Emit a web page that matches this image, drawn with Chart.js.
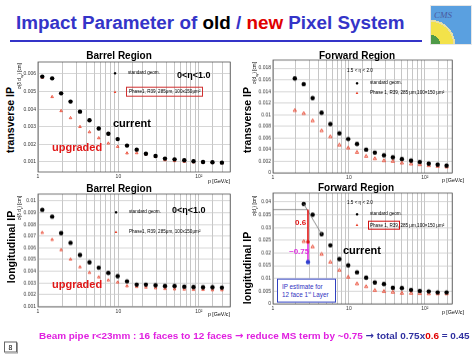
<!DOCTYPE html>
<html><head><meta charset="utf-8">
<script src="https://cdn.jsdelivr.net/npm/chart.js@4.4.1/dist/chart.umd.min.js"></script>
<style>
body{margin:0;width:474px;height:355px;background:#fff;position:relative;overflow:hidden;font-family:"Liberation Sans",Arial,sans-serif;}
.t{position:absolute;white-space:nowrap;line-height:1;}
canvas{position:absolute;}
#logo{position:absolute;left:430px;top:5px;width:40px;height:38px;border:1px solid #e6e6e6;
background:radial-gradient(circle at 0 100%,#4f9a48 0 9px,#f3e24a 9px 22px,#e6dfa8 22px 24px,#5aa0e0 24px 100px);}
.ar{font-family:"DejaVu Sans",sans-serif;}
</style></head><body>
<div id="logo"><span class="t" style="left:3px;top:4px;font:italic 9px 'Liberation Serif',serif;color:#4a5aa0">CMS</span></div>
<div id="uline" style="position:absolute;left:10px;top:40px;width:412px;height:1.5px;background:#3434c8"></div>
<script>
// ---- data ----
const pBins = [1.13,1.5,1.94,2.54,3.33,4.37,5.7,7.5,9.8,12.8,16.9,22,29,38,50,66,86,113,148,194];
const barrelTransStd = [0.00585,0.00575,0.0049,0.00443,0.00386,0.00337,0.0029,0.0026,0.0023,0.00193,0.0017,0.00147,0.00134,0.00119,0.00115,0.0011,0.00104,0.001,0.00098,0.00096];
const barrelTransNew = [0.0058,0.0047,0.0039,0.0035,0.003,0.0027,0.00236,0.00206,0.00187,0.0015,0.00151,0.00144,0.0013,0.00111,0.00106,0.00102,0.00099,0.00098,0.00097,0.00095];
const fwdTransStd = [0.01623,0.01526,0.01286,0.01034,0.0084,0.0068,0.00583,0.00497,0.004,0.00349,0.00303,0.00269,0.0024,0.00211,0.00189,0.0016,0.00143,0.00126];
const fwdTransNew = [0.01074,0.01023,0.00897,0.00726,0.00623,0.0048,0.00429,0.00354,0.00286,0.00246,0.00211,0.002,0.00171,0.00154,0.00143,0.00126,0.00114,0.00103];
const barrelLongStd = [0.00925,0.00867,0.00726,0.00643,0.00539,0.00476,0.0043,0.00386,0.00358,0.00314,0.00286,0.00286,0.0028,0.00274,0.00274,0.00268,0.00265,0.00263,0.00263,0.0026];
const barrelLongNew = [0.0073,0.0067,0.00582,0.00502,0.00436,0.00388,0.0035,0.00324,0.00306,0.00274,0.00268,0.00263,0.00257,0.00251,0.00248,0.00246,0.00243,0.00243,0.0024,0.0024];
const fwdLongStd = [0.0392,0.035,0.0274,0.023,0.0176,0.0151,0.0124,0.0103,0.0084,0.0078,0.0063,0.0062,0.0055,0.0051,0.0049,0.0045,0.0045];
const fwdLongNew = [0.0245,0.0224,0.0195,0.0164,0.0132,0.0105,0.0079,0.0068,0.0053,0.0049,0.0046,0.0042,0.0042,0.0041,0.004,0.004,0.004];
const ticksBT = [0.001,0.002,0.003,0.004,0.005,0.006];
const ticksFT = [0,0.002,0.004,0.006,0.008,0.01,0.012,0.014,0.016,0.018];
const ticksBL = [0.001,0.002,0.003,0.004,0.005,0.006,0.007,0.008,0.009,0.01];
const ticksFL = [0,0.005,0.01,0.015,0.02,0.025,0.03,0.035,0.04];
// annotation of forward longitudinal plot: p, start level, x0.6 level, x0.75 level
const annP = 2.89, annTop = 0.037, annRed = 0.0243, annBlue = 0.0164;

const pts = (xs, ys) => ys.map((y,i)=>({x:xs[i], y}));

const framePlugin = {id:'frame', afterDraw(c){const a=c.chartArea,g=c.ctx;g.save();g.strokeStyle='#555';g.lineWidth=0.8;g.strokeRect(a.left,a.top,a.right-a.left,a.bottom-a.top);g.restore();}};

function plot(L,T,R,B,opt){
  const cv=document.createElement('canvas');
  const w=R-L+26, h=B-T+18;
  cv.width=w; cv.height=h; cv.style.left=(L-22)+'px'; cv.style.top=(T-6)+'px';
  cv.style.width=w+'px'; cv.style.height=h+'px';
  document.body.appendChild(cv);
  const plugins=[framePlugin];
  if(opt.extra) plugins.push({id:'extra', afterDatasetsDraw:opt.extra});
  return new Chart(cv,{type:'scatter',
    data:{datasets:[
      {data:pts(opt.p,opt.std),pointStyle:'circle',pointRadius:2.2,backgroundColor:'#000',borderWidth:0},
      {data:pts(opt.p,opt.nw),pointStyle:'triangle',pointRadius:opt.rr||1.9,borderColor:'#e8402a',backgroundColor:'rgba(232,64,42,0.2)',borderWidth:0.8}
    ]},
    options:{responsive:false,animation:false,events:[],
      layout:{padding:{top:6,right:4,left:0,bottom:0}},
      plugins:{legend:{display:false},tooltip:{enabled:false}},
      scales:{
        x:{type:'logarithmic',min:1,max:opt.xMax,afterFit:s=>{s.height=12;},
          grid:{color:'#b8b8b8',lineWidth:0.8,drawTicks:false},border:{display:false},
          ticks:{autoSkip:false,maxRotation:0,padding:2,font:{size:5,family:'Liberation Sans'},color:'#333',
            callback:v=>{const l=Math.log10(v);if(Math.abs(l-Math.round(l))<1e-6){const k=Math.round(l);return k===0?'1':k===1?'10':k===2?'10²':'';}return '';}}},
        y:{type:'linear',min:opt.yMin,max:opt.yMax,
          afterBuildTicks:s=>{s.ticks=opt.yTicks.map(v=>({value:v}));},
          afterFit:s=>{s.width=22;},
          grid:{color:'#cccccc',lineWidth:0.8,drawTicks:false},border:{display:false},
          ticks:{padding:2,font:{size:5,family:'Liberation Sans'},color:'#333',callback:v=>String(+v.toFixed(4))}}
      }},
    plugins});
}

plot(38,62,231,172,{p:pBins,std:barrelTransStd,nw:barrelTransNew,xMax:246,yMin:0.00043,yMax:0.00668,yTicks:ticksBT,rr:1.5});
plot(273,60,453,172.7,{p:pBins.slice(2),std:fwdTransStd,nw:fwdTransNew,xMax:230,yMin:0,yMax:0.0194,yTicks:ticksFT});
plot(38,194,231,306.7,{p:pBins,std:barrelLongStd,nw:barrelLongNew,xMax:246,yMin:0.00095,yMax:0.0106,yTicks:ticksBL,rr:1.5});
plot(273,193,453,303.5,{p:pBins.slice(3),std:fwdLongStd,nw:fwdLongNew,xMax:230,yMin:0,yMax:0.0435,yTicks:ticksFL,
  extra(c){
    const x=c.scales.x,y=c.scales.y,g=c.ctx;
    const X=v=>x.getPixelForValue(v),Y=v=>y.getPixelForValue(v);
    g.save();
    g.strokeStyle='#777';g.lineWidth=0.8;
    g.beginPath();g.moveTo(X(1),Y(annTop));g.lineTo(X(annP),Y(annTop));g.stroke();
    g.beginPath();g.moveTo(X(pBins[3]),Y(fwdLongStd[0]));g.lineTo(X(pBins[5]),Y(fwdLongStd[2]));g.stroke();
    g.lineWidth=1.6;
    g.strokeStyle='#e01818';g.beginPath();g.moveTo(X(annP),Y(annTop));g.lineTo(X(annP),Y(annRed));g.stroke();
    g.strokeStyle='#e030e0';g.beginPath();g.moveTo(X(annP),Y(annRed));g.lineTo(X(annP),Y(annBlue));g.stroke();
    g.fillStyle='#e01818';g.beginPath();g.arc(X(annP),Y(annRed),1.8,0,7);g.fill();
    g.fillStyle='#3040d0';g.beginPath();g.arc(X(annP),Y(annBlue),2.2,0,7);g.fill();
    g.restore();
  }});

// ---- texts ----
function lab(html,x,y,o={}){
  const d=document.createElement('div');d.className='t';d.innerHTML=html;
  d.style.fontSize=(o.size||5)+'px';d.style.fontWeight=o.bold?'bold':'normal';d.style.color=o.color||'#000';
  d.style.left=x+'px';d.style.top=y+'px';
  let tr='';
  if(o.align==='c') tr='translate(-50%,-50%)'; else if(o.align==='r') tr='translate(-100%,-50%)'; else tr='translateY(-50%)';
  if(o.rot) tr='translate(-50%,-50%) rotate(-90deg)';
  d.style.transform=tr;
  if(o.style) d.style.cssText+=o.style;
  document.body.appendChild(d);
  if(o.fitW){const s=(o.size||5)*o.fitW/d.offsetWidth;d.style.fontSize=s+'px';}
  return d;
}
lab('Impact Parameter of <span style="color:#000">old</span> / <span style="color:#e00000">new</span> Pixel System',16,23,{size:19,bold:true,color:'#3434c8',fitW:389});

// panel titles
lab('Barrel Region',119,56,{size:10,bold:true,align:'c'});
lab('Forward Region',357,56,{size:10,bold:true,align:'c'});
lab('Barrel Region',119,189,{size:10,bold:true,align:'c'});
lab('Forward Region',356,188,{size:10,bold:true,align:'c'});

// axis titles
lab('transverse IP',10,120,{size:10.5,bold:true,rot:true});
lab('transverse IP',247,120,{size:10.5,bold:true,rot:true});
lab('longitudinal IP',11,247,{size:10.5,bold:true,rot:true});
lab('longitudinal IP',247,268,{size:10.5,bold:true,rot:true});
lab('σ(δ d<sub style="font-size:3.5px">xy</sub>) [cm]',21,76,{size:4.6,rot:true});
lab('σ(d<sub style="font-size:3.5px">xy</sub>) [cm]',256,73,{size:4.6,rot:true});
lab('σ(δ d<sub style="font-size:3.5px">z</sub>) [cm]',21,208,{size:4.6,rot:true});
lab('σ(d<sub style="font-size:3.5px">z</sub>) [cm]',256,206,{size:4.6,rot:true});
lab('p [GeV/c]',230,182,{size:5.3,align:'r'});
lab('p [GeV/c]',464,181,{size:5.3,align:'r'});
lab('p [GeV/c]',230,315,{size:5.3,align:'r'});
lab('p [GeV/c]',464,313,{size:5.3,align:'r'});

// legends
const dot='<span style="font-size:6px">●</span>', tri='<span style="color:#e8402a;font-size:4.5px">▲</span>';
lab(dot,115,73,{align:'c'});lab('standard geom.',128,73,{size:4.6});
lab(tri,115,91.5,{align:'c'});
lab('Phase1, R39, 285μm, 100x150μm²',126,91.5,{size:4.6,style:'border:1px solid #d03030;padding:2px 2px;'});
lab('0&lt;η&lt;1.0',177,75,{size:9,bold:true});

lab('1.5 &lt; η &lt; 2.0',347,71,{size:4.6});
lab(dot,357,83,{align:'c'});lab('standard geom.',370,83,{size:4.6});
lab(tri,357,93.3,{align:'c'});lab('Phase 1, R39, 285 μm,100×150 μm²',370,93.3,{size:4.6});

lab(dot,116,212,{align:'c'});lab('standard geom.',129,212,{size:4.6});
lab('0&lt;η&lt;1.0',172,210,{size:9,bold:true});
lab(tri,116,232,{align:'c'});lab('Phase1, R39, 285μm, 100x150μm²',129,232,{size:4.6});

lab('1.5 &lt; η &lt; 2.0',347,203,{size:4.6});
lab(dot,357,213.5,{align:'c'});lab('standard geom.',370,213.5,{size:4.6});
lab(tri,357,225,{align:'c'});
lab('<span style="outline:1.2px solid #d01010;outline-offset:1.5px">Phase 1, R39</span>, 285 μm,100×150 μm²',370,225.5,{size:4.6});

// annotations
lab('current',113,123,{size:11,bold:true});
lab('upgraded',52,147,{size:11,bold:true,color:'#e01818'});
lab('upgraded',52,284,{size:11,bold:true,color:'#e01818'});
lab('current',343,250,{size:11,bold:true});
lab('0.6',295,223,{size:8,bold:true,color:'#e01818'});
lab('~0.75',289,252,{size:8,bold:true,color:'#e030e0'});
lab('IP estimate for<br>12 face 1<sup style="font-size:4px">st</sup> Layer',277,290.5,{size:6.3,color:'#3030c0',style:'border:1px solid #3040c0;background:#fff;padding:3px 4px;line-height:1.25;width:49px;'});

// bottom
lab('<span style="color:#e020e0">Beam pipe r&lt;23mm : 16 faces to 12 faces <span class="ar">→</span> reduce MS term by ~0.75 </span><span style="color:#3030a0"><span class="ar">→</span> total 0.75x</span><span style="color:#e00000">0.6</span><span style="color:#3030a0"> = 0.45</span>',39,336,{size:10,bold:true,fitW:431});
lab('8',4,347,{size:7,style:'border:1px solid #666;width:11px;height:9px;line-height:9px;text-align:center;box-shadow:1px 1px 0 #999;'});
</script>
</body></html>
